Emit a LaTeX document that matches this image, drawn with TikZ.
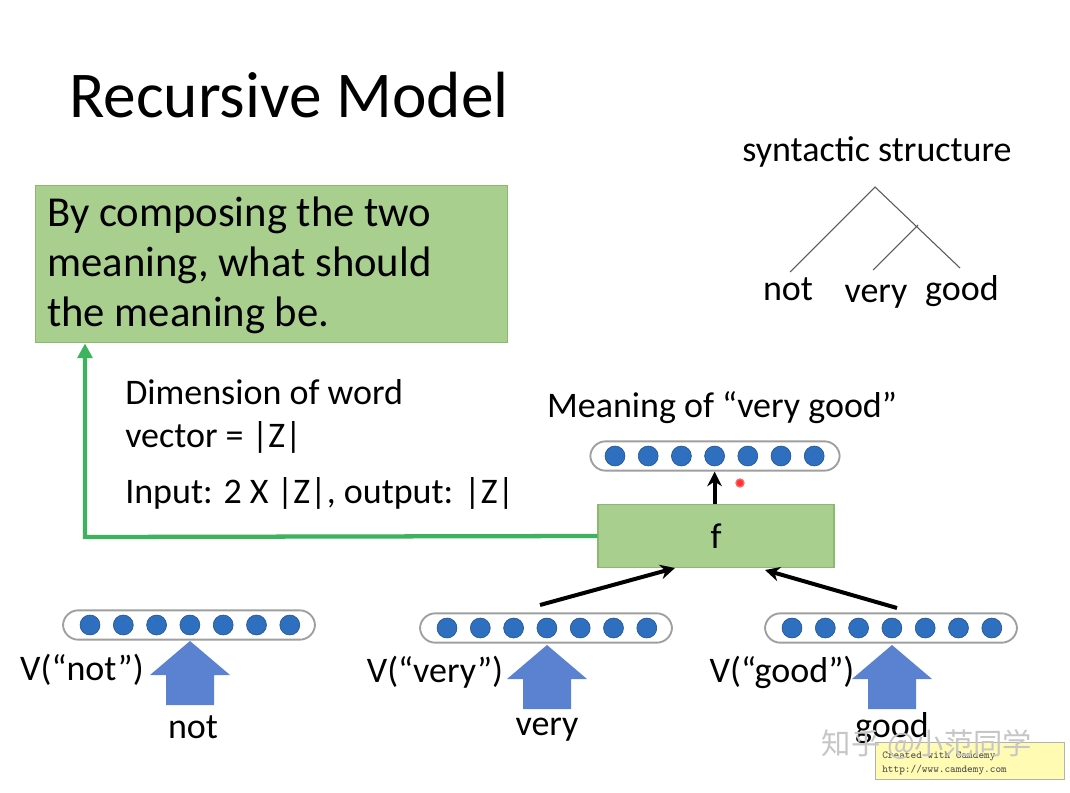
\documentclass[tikz,border=0pt]{standalone}
\usepackage{fontspec}
\setmainfont{Carlito}
\newfontfamily\cjk{Noto Sans CJK SC}
\usetikzlibrary{arrows.meta}
\definecolor{boxg}{HTML}{A9CF8F}
\definecolor{boxb}{HTML}{8DB870}
\definecolor{arrg}{HTML}{3CB35C}
\definecolor{dotb}{HTML}{2E6FC0}
\definecolor{bigb}{HTML}{5B82D1}
\tikzset{
  txt/.style={font=\fontsize{27}{30}\selectfont, inner sep=0pt},
  capsule/.style={draw=gray!75, line width=1.4pt, fill=white, rounded corners=11.5},
  dot/.style={circle, fill=dotb, draw=dotb!70!black, inner sep=0pt, minimum size=15pt},
  gbox/.style={fill=boxg, draw=boxb, line width=0.8pt},
  blk/.style={line width=3pt, -{Stealth[length=11pt,width=11pt]}},
  pics/big/.style={code={\fill[bigb] (-24,32) -- (-24,2) -- (-40,2) -- (0,-32) -- (40,2) -- (24,2) -- (24,32) -- cycle;}}
}
\begin{document}
\begin{tikzpicture}[x=0.75pt,y=-0.75pt]
\useasboundingbox[fill=white] (0,0) rectangle (1070,792);
\node[anchor=west, font=\fontsize{49}{54}\selectfont, inner sep=0pt] (title) at (69,95) {Recursive Model};
\node[gbox, minimum width=354pt, minimum height=118pt, anchor=north west] (gb) at (35,185) {};
\node[anchor=north west, align=left, font=\fontsize{32}{37.5}\selectfont, inner sep=0pt] (gbt) at (47,197) {By composing the two\\meaning, what should\\the meaning be.};
\node[txt] (syn) at (877,152) {syntactic structure};
\coordinate (apex) at (875,187);
\coordinate (mid) at (918,225);
\coordinate (lnot) at (790,272);
\coordinate (lgood) at (960,268);
\coordinate (lvery) at (873,270);
\draw[gray!70!black, line width=0.8pt] (lnot) -- (apex) -- (lgood) (mid) -- (lvery);
\node[txt, anchor=base] (tnot) at (788,300) {not};
\node[txt, anchor=base] (tvery) at (876,302) {very};
\node[txt, anchor=base] (tgood) at (962,300) {good};
\node[txt, anchor=west] (d1) at (125,392) {Dimension of word};
\node[txt, anchor=west] (d2) at (125,437) {vector = |Z|};
\node[txt, anchor=west] (d3) at (125,493) {Input: 2 X |Z|, output: |Z|};
\node[txt] (mean) at (722,408) {Meaning of “very good”};
\node[gbox, minimum width=177pt, minimum height=47pt] (f) at (716,536) {};
\node[txt] (fl) at (716,536) {f};
\coordinate (gc) at (85,537);
\draw[arrg, line width=3.2pt, -{Triangle[length=11pt,width=11pt]}] (f.west) -- (gc) -- (gb.south west -| gc);
\node[capsule, minimum width=187pt, minimum height=22pt] (vtop) at (715,456) {};
\foreach \i in {0,...,6} \node[dot] (t\i) at (615+33.2*\i,456) {};
\draw[blk] (f.north -| t3) -- (vtop.south -| t3);
\node[capsule, minimum width=189pt, minimum height=22pt] (vnot) at (189,625) {};
\foreach \i in {0,...,6} \node[dot] (n\i) at (90+33.3*\i,625) {};
\node[capsule, minimum width=189pt, minimum height=22pt] (vvery) at (546,628) {};
\foreach \i in {0,...,6} \node[dot] (v\i) at (447+33.3*\i,628) {};
\node[capsule, minimum width=189pt, minimum height=22pt] (vgood) at (891,628) {};
\foreach \i in {0,...,6} \node[dot] (g\i) at (792+33.3*\i,628) {};
\coordinate (fa) at (675,568);
\coordinate (fb) at (765,570);
\coordinate (sa) at (540,605);
\coordinate (sb) at (897,608);
\draw[blk] (sa) -- (fa);
\draw[blk] (sb) -- (fb);
\pic at (190,673) {big};
\pic at (547,677) {big};
\pic at (892,677) {big};
\node[txt] (ln) at (82,670) {V(“not”)};
\node[txt] (wn) at (193,727) {not};
\node[txt] (lv) at (435,672) {V(“very”)};
\node[txt] (wv) at (547,730) {very};
\node[txt] (lg) at (782,672) {V(“good”)};
\node[txt] (wg) at (892,728) {good};
\node[circle, draw=red!60, fill=red!80, line width=1pt, inner sep=0pt, minimum size=6pt] (cur) at (740,483) {};
\node[draw=gray!60, fill=yellow!30, anchor=north west, minimum width=142pt, minimum height=28pt, inner sep=0pt] (cam) at (875,742) {};
\node[font=\fontsize{8}{10}\selectfont\ttfamily, anchor=north west, align=left, inner sep=0pt, text=gray!60!black] (camt) at (882,752) {Created with Camdemy\\http://www.camdemy.com};
\node[font=\cjk\fontsize{22}{24}\selectfont, text=gray!45, inner sep=0pt] (wm) at (927,745) {知乎 @小范同学};
\end{tikzpicture}
\end{document}
